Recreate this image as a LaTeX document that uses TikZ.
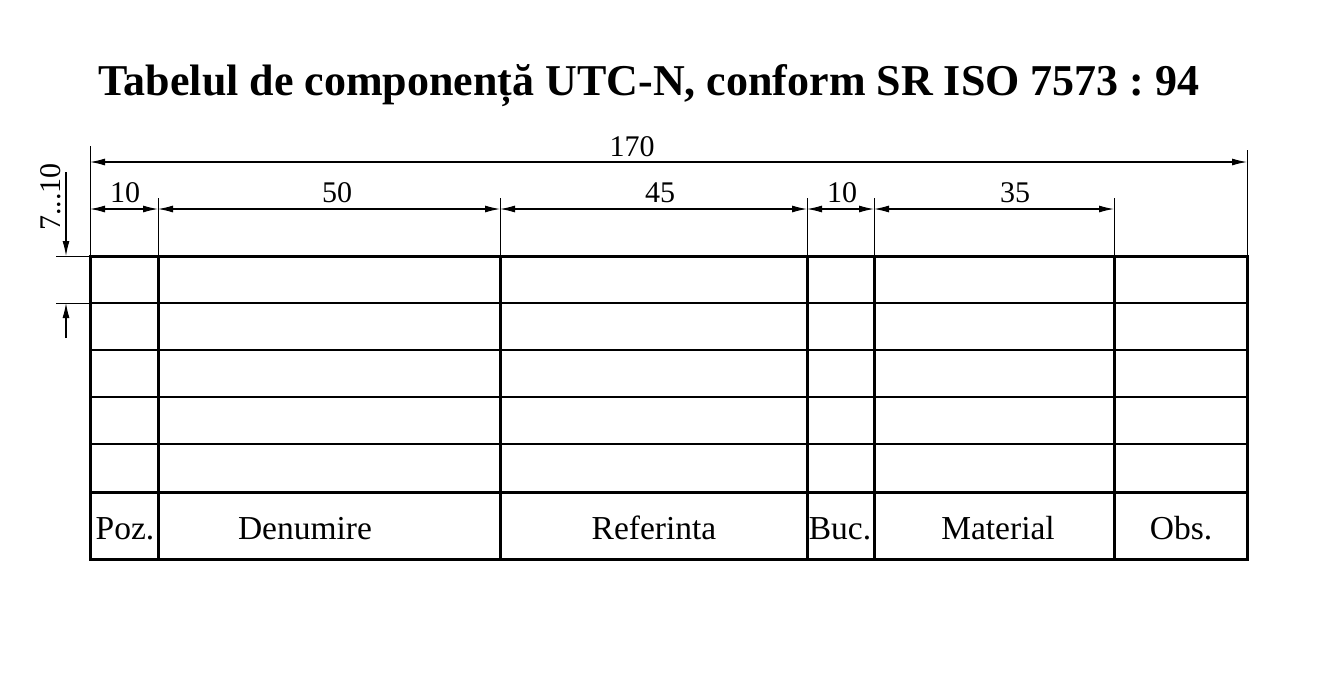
\documentclass[tikz,border=0pt]{standalone}
\usepackage{fontspec}
\setmainfont{Liberation Serif}
\usetikzlibrary{arrows.meta}
\frenchspacing
\begin{document}
\begin{tikzpicture}[x=1pt,y=-1pt,
  tabouter/.style={line width=3pt},
  tabinner/.style={line width=1.3pt},
  extline/.style={line width=1pt},
  dimline/.style={line width=1.1pt,{Latex[length=15pt,width=7pt]}-{Latex[length=15pt,width=7pt]}},
  dimtip/.style={line width=1.1pt,-{Latex[length=15pt,width=7pt]}},
  dimlabel/.style={font=\fontsize{30}{34}\selectfont,inner sep=0pt,anchor=base},
  headlabel/.style={font=\fontsize{33.5}{38}\selectfont,inner sep=0pt,anchor=base}]
\useasboundingbox (0,0) rectangle (1334,691);
\fill[white] (0,0) rectangle (1334,691);

% title
\node[font=\bfseries\fontsize{44}{50}\selectfont,inner sep=0pt,anchor=base] (title) at (649,95)
  {Tabelul de componență UTC-N, conform SR ISO 7573 : 94};

% table inner row lines
\foreach \yy in {303,350,397,444}
  \draw[tabinner] (90,\yy) -- (1247,\yy);
% table thick lines
\draw[tabouter] (90,256) rectangle (1247,559);
\draw[tabouter] (90,492) -- (1247,492);
\foreach \xx in {158,500,807,874,1114}
  \draw[tabouter] (\xx,256) -- (\xx,559);

% header labels
\node[headlabel] (poz) at (125,539) {Poz.};
\node[headlabel] (den) at (305,539) {Denumire};
\node[headlabel] (ref) at (654,539) {Referinta};
\node[headlabel] (buc) at (840,539) {Buc.};
\node[headlabel] (mat) at (998,539) {Material};
\node[headlabel] (obs) at (1181,539) {Obs.};

% extension lines
\draw[extline] (90,146) -- (90,256);
\draw[extline] (1247,150) -- (1247,256);
\foreach \xx in {158,500,807,874,1114}
  \draw[extline] (\xx,198) -- (\xx,256);

% overall dimension
\coordinate (a0) at (90,162);
\coordinate (a6) at (1247,162);
\draw[dimline] (a0) -- (a6);
\node[dimlabel] (l170) at (632,156) {170};

% partial dimensions
\coordinate (s0) at (90,209);
\coordinate (s1) at (158,209);
\coordinate (s2) at (500,209);
\coordinate (s3) at (807,209);
\coordinate (s4) at (874,209);
\coordinate (s5) at (1114,209);
\draw[dimline] (s0) -- (s1);
\draw[dimline] (s1) -- (s2);
\draw[dimline] (s2) -- (s3);
\draw[dimline] (s3) -- (s4);
\draw[dimline] (s4) -- (s5);
\node[dimlabel] (l10a) at (125,202) {10};
\node[dimlabel] (l50) at (337,202) {50};
\node[dimlabel] (l45) at (660,202) {45};
\node[dimlabel] (l10b) at (842,202) {10};
\node[dimlabel] (l35) at (1015,202) {35};

% row height dimension
\draw[extline] (56,256) -- (90,256);
\draw[extline] (56,303) -- (90,303);
\coordinate (v1) at (66,172);
\coordinate (v2) at (66,256);
\coordinate (v3) at (66,303);
\coordinate (v4) at (66,338);
\draw[dimtip] (v1) -- (v2);
\draw[dimtip] (v4) -- (v3);
\node[font=\fontsize{30}{34}\selectfont,inner sep=0pt,rotate=90] (l710) at (51,197) {7...10};
\end{tikzpicture}
\end{document}
